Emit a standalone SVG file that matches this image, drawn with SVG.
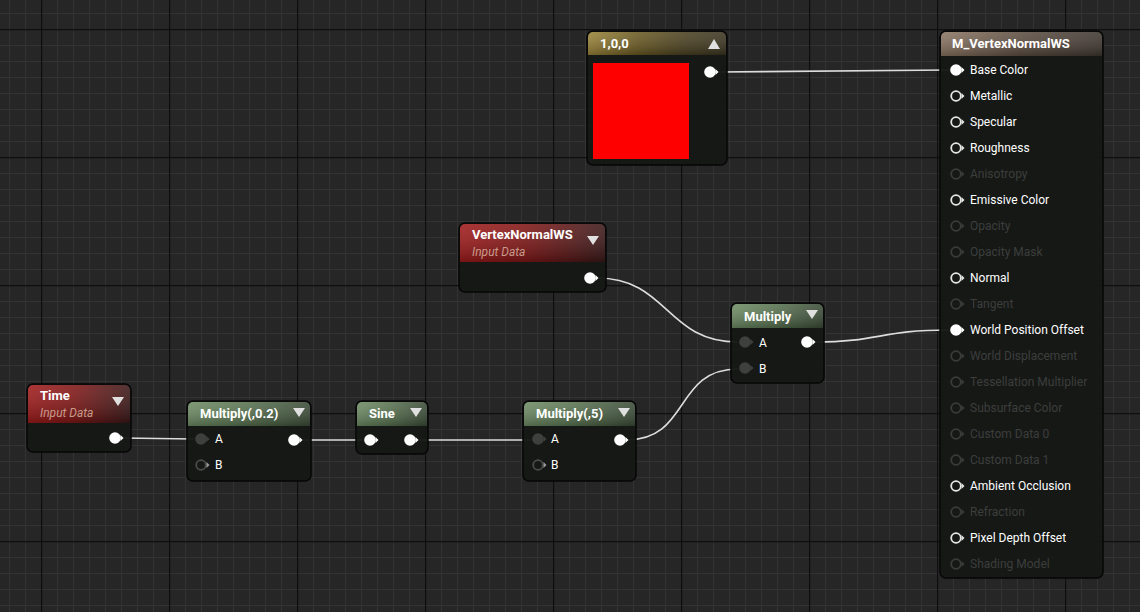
<svg xmlns="http://www.w3.org/2000/svg" width="1140" height="612" viewBox="0 0 1140 612">
<defs>
<style>
.t{font-family:Roboto,"Liberation Sans",sans-serif;font-size:12px;fill:#ffffff}
.h{font-family:Roboto,"Liberation Sans",sans-serif;font-size:13px;font-weight:bold;fill:#ffffff}
.sub{font-family:Roboto,"Liberation Sans",sans-serif;font-size:12px;font-style:italic;fill:#c89a8a}
.dim{fill:#3c3e3c}
.body{fill:#161816;fill-opacity:0.96;stroke:#060606;stroke-width:1.5}
.wire{fill:none;stroke:#dcdcdc;stroke-width:1.6}
.tri{fill:#e0e0e0}
</style>
<pattern id="minor" x="9" y="13" width="16" height="16" patternUnits="userSpaceOnUse">
<path d="M0.5 0V16M0 0.5H16" stroke="#333333" stroke-width="1" fill="none"/>
</pattern>
<pattern id="major" x="41" y="29" width="128" height="128" patternUnits="userSpaceOnUse">
<path d="M0.5 0V128M0 0.5H128" stroke="#0e0e0e" stroke-width="1.4" fill="none"/>
</pattern>
<linearGradient id="gGold" x1="0" y1="0" x2="1" y2="0">
<stop offset="0" stop-color="#9a8438"/><stop offset="0.35" stop-color="#6a5a22"/><stop offset="0.7" stop-color="#4a4020"/><stop offset="1" stop-color="#3a3420"/>
</linearGradient>
<linearGradient id="gBrown" x1="0" y1="0" x2="1" y2="0">
<stop offset="0" stop-color="#8a7562"/><stop offset="0.5" stop-color="#5c4d40"/><stop offset="1" stop-color="#3e3630"/>
</linearGradient>
<linearGradient id="gRed" x1="0" y1="0" x2="1" y2="0">
<stop offset="0" stop-color="#a01a1a"/><stop offset="0.45" stop-color="#801616"/><stop offset="1" stop-color="#3a1818"/>
</linearGradient>
<linearGradient id="gGreen" x1="0" y1="0" x2="1" y2="0">
<stop offset="0" stop-color="#6e8c64"/><stop offset="0.5" stop-color="#56704e"/><stop offset="1" stop-color="#3a4a36"/>
</linearGradient>
<linearGradient id="shade" x1="0" y1="0" x2="0" y2="1">
<stop offset="0" stop-color="#ffffff" stop-opacity="0.12"/><stop offset="1" stop-color="#000000" stop-opacity="0.25"/>
</linearGradient>
<g id="pf"><circle cx="0" cy="0" r="5.8" fill="#ffffff"/><path d="M5.5 -3L8.5 0L5.5 3Z" fill="#ffffff"/></g>
<g id="pr"><circle cx="0" cy="0" r="4.8" fill="none" stroke="#e6e6e6" stroke-width="1.8"/><path d="M5.5 -3L8.5 0L5.5 3Z" fill="#e6e6e6"/></g>
<g id="pd"><circle cx="0" cy="0" r="4.8" fill="none" stroke="#3a3c3a" stroke-width="1.8"/><path d="M5.5 -3L8.5 0L5.5 3Z" fill="#3a3c3a"/></g>
<g id="pdf"><circle cx="0" cy="0" r="5.8" fill="#3e403e"/><path d="M5.5 -3L8.5 0L5.5 3Z" fill="#3e403e"/></g>
<g id="pbr"><circle cx="0" cy="0" r="4.8" fill="none" stroke="#4a4c4a" stroke-width="1.8"/><path d="M5.5 -3L8.5 0L5.5 3Z" fill="#9a9a9a"/></g>
</defs>

<rect width="1140" height="612" fill="#262626"/>
<rect width="1140" height="612" fill="url(#minor)"/>
<rect width="1140" height="612" fill="url(#major)"/>

<g id="connectors">
<path class="wire" d="M717 72 L949 70"/>
<path class="wire" d="M597 278 C668 278 666 342 738 342"/>
<path class="wire" d="M122 438 L194 439"/>
<path class="wire" d="M301 440 L363 440"/>
<path class="wire" d="M417 440 L531 440"/>
<path class="wire" d="M627 440 C690 440 674 369 738 369"/>
<path class="wire" d="M814 342 C880 342 880 330 949 330"/>
</g>

<g id="node-constant">
<rect class="body" x="587" y="31" width="140" height="134" rx="6"/>
<path d="M588 55V37a5 5 0 0 1 5-5H721a5 5 0 0 1 5 5V55Z" fill="url(#gGold)"/>
<path d="M588 55V37a5 5 0 0 1 5-5H721a5 5 0 0 1 5 5V55Z" fill="url(#shade)"/>
<text class="h" x="600" y="48">1,0,0</text>
<path class="tri" d="M708 49L714 39L720 49Z"/>
<rect x="593" y="63" width="96" height="96" fill="#ff0000"/>
<use href="#pf" x="710" y="72"/>
</g>

<g id="node-material">
<rect class="body" x="940" y="31" width="163" height="547" rx="6"/>
<path d="M941 56V37a5 5 0 0 1 5-5H1097a5 5 0 0 1 5 5V56Z" fill="url(#gBrown)"/>
<path d="M941 56V37a5 5 0 0 1 5-5H1097a5 5 0 0 1 5 5V56Z" fill="url(#shade)"/>
<text class="h" x="952" y="48">M_VertexNormalWS</text>
<use href="#pf" x="956" y="70"/><text class="t" x="970" y="74">Base Color</text>
<use href="#pr" x="956" y="96"/><text class="t" x="970" y="100">Metallic</text>
<use href="#pr" x="956" y="122"/><text class="t" x="970" y="126">Specular</text>
<use href="#pr" x="956" y="148"/><text class="t" x="970" y="152">Roughness</text>
<use href="#pd" x="956" y="174"/><text class="t dim" x="970" y="178">Anisotropy</text>
<use href="#pr" x="956" y="200"/><text class="t" x="970" y="204">Emissive Color</text>
<use href="#pd" x="956" y="226"/><text class="t dim" x="970" y="230">Opacity</text>
<use href="#pd" x="956" y="252"/><text class="t dim" x="970" y="256">Opacity Mask</text>
<use href="#pr" x="956" y="278"/><text class="t" x="970" y="282">Normal</text>
<use href="#pd" x="956" y="304"/><text class="t dim" x="970" y="308">Tangent</text>
<use href="#pf" x="956" y="330"/><text class="t" x="970" y="334">World Position Offset</text>
<use href="#pd" x="956" y="356"/><text class="t dim" x="970" y="360">World Displacement</text>
<use href="#pd" x="956" y="382"/><text class="t dim" x="970" y="386">Tessellation Multiplier</text>
<use href="#pd" x="956" y="408"/><text class="t dim" x="970" y="412">Subsurface Color</text>
<use href="#pd" x="956" y="434"/><text class="t dim" x="970" y="438">Custom Data 0</text>
<use href="#pd" x="956" y="460"/><text class="t dim" x="970" y="464">Custom Data 1</text>
<use href="#pr" x="956" y="486"/><text class="t" x="970" y="490">Ambient Occlusion</text>
<use href="#pd" x="956" y="512"/><text class="t dim" x="970" y="516">Refraction</text>
<use href="#pr" x="956" y="538"/><text class="t" x="970" y="542">Pixel Depth Offset</text>
<use href="#pd" x="956" y="564"/><text class="t dim" x="970" y="568">Shading Model</text>
</g>

<g id="node-vertexnormal">
<rect class="body" x="459" y="223" width="147" height="69" rx="6"/>
<path d="M460 262V229a5 5 0 0 1 5-5H600a5 5 0 0 1 5 5V262Z" fill="url(#gRed)"/>
<path d="M460 262V229a5 5 0 0 1 5-5H600a5 5 0 0 1 5 5V262Z" fill="url(#shade)"/>
<text class="h" x="472" y="239">VertexNormalWS</text>
<text class="sub" x="472" y="256">Input Data</text>
<path class="tri" d="M587 236L599 236L593 245Z"/>
<use href="#pf" x="590" y="278"/>
</g>

<g id="node-time">
<rect class="body" x="27" y="384" width="104" height="68" rx="6"/>
<path d="M28 423V390a5 5 0 0 1 5-5H125a5 5 0 0 1 5 5V423Z" fill="url(#gRed)"/>
<path d="M28 423V390a5 5 0 0 1 5-5H125a5 5 0 0 1 5 5V423Z" fill="url(#shade)"/>
<text class="h" x="40" y="400">Time</text>
<text class="sub" x="40" y="417">Input Data</text>
<path class="tri" d="M112 397L124 397L118 406Z"/>
<use href="#pf" x="115" y="438"/>
</g>

<g id="node-multiply02">
<rect class="body" x="187" y="401" width="124" height="80" rx="6"/>
<path d="M188 426V407a5 5 0 0 1 5-5H305a5 5 0 0 1 5 5V426Z" fill="url(#gGreen)"/>
<path d="M188 426V407a5 5 0 0 1 5-5H305a5 5 0 0 1 5 5V426Z" fill="url(#shade)"/>
<text class="h" x="200" y="418">Multiply(,0.2)</text>
<path class="tri" d="M293 408L305 408L299 417Z"/>
<use href="#pdf" x="201" y="439"/><text class="t" x="215" y="443">A</text>
<use href="#pbr" x="201" y="465"/><text class="t" x="215" y="469">B</text>
<use href="#pf" x="294" y="440"/>
</g>

<g id="node-sine">
<rect class="body" x="356" y="401" width="72" height="53" rx="6"/>
<path d="M357 426V407a5 5 0 0 1 5-5H422a5 5 0 0 1 5 5V426Z" fill="url(#gGreen)"/>
<path d="M357 426V407a5 5 0 0 1 5-5H422a5 5 0 0 1 5 5V426Z" fill="url(#shade)"/>
<text class="h" x="369" y="418">Sine</text>
<path class="tri" d="M410 408L422 408L416 417Z"/>
<use href="#pf" x="370" y="440"/>
<use href="#pf" x="410" y="440"/>
</g>

<g id="node-multiply5">
<rect class="body" x="523" y="401" width="113" height="80" rx="6"/>
<path d="M524 426V407a5 5 0 0 1 5-5H630a5 5 0 0 1 5 5V426Z" fill="url(#gGreen)"/>
<path d="M524 426V407a5 5 0 0 1 5-5H630a5 5 0 0 1 5 5V426Z" fill="url(#shade)"/>
<text class="h" x="536" y="418">Multiply(,5)</text>
<path class="tri" d="M618 408L630 408L624 417Z"/>
<use href="#pdf" x="538" y="439"/><text class="t" x="551" y="443">A</text>
<use href="#pbr" x="538" y="465"/><text class="t" x="551" y="469">B</text>
<use href="#pf" x="620" y="440"/>
</g>

<g id="node-multiply">
<rect class="body" x="731" y="303" width="93" height="80" rx="6"/>
<path d="M732 328V309a5 5 0 0 1 5-5H818a5 5 0 0 1 5 5V328Z" fill="url(#gGreen)"/>
<path d="M732 328V309a5 5 0 0 1 5-5H818a5 5 0 0 1 5 5V328Z" fill="url(#shade)"/>
<text class="h" x="744" y="321">Multiply</text>
<path class="tri" d="M806 310L818 310L812 319Z"/>
<use href="#pdf" x="745" y="342"/><text class="t" x="759" y="347">A</text>
<use href="#pdf" x="745" y="368"/><text class="t" x="759" y="373">B</text>
<use href="#pf" x="807" y="342"/>
</g>
</svg>
